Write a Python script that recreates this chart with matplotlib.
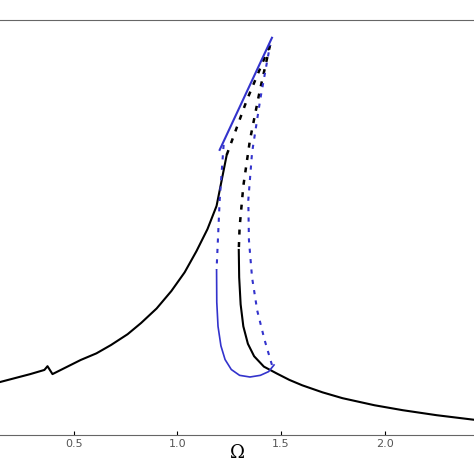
import matplotlib.pyplot as plt

# black branches
blk_left_x = [0.146, 0.291, 0.359, 0.374, 0.398, 0.534, 0.610, 0.680, 0.760, 0.825, 0.900, 0.971, 1.035, 1.092, 1.145, 1.189, 1.238]
blk_left_y = [0.128, 0.147, 0.157, 0.166, 0.147, 0.181, 0.197, 0.217, 0.243, 0.270, 0.305, 0.347, 0.392, 0.443, 0.496, 0.552, 0.675]
blk_right_x = [1.296, 1.298, 1.305, 1.318, 1.340, 1.370, 1.417, 1.481, 1.540, 1.602, 1.700, 1.796, 1.950, 2.087, 2.250, 2.447]
blk_right_y = [0.446, 0.380, 0.315, 0.262, 0.220, 0.190, 0.165, 0.148, 0.133, 0.120, 0.103, 0.089, 0.072, 0.060, 0.048, 0.036]
blk_dash1_x = [1.238, 1.335, 1.447]
blk_dash1_y = [0.675, 0.807, 0.940]
blk_dash2_x = [1.447, 1.398, 1.350, 1.318, 1.300, 1.296]
blk_dash2_y = [0.940, 0.831, 0.711, 0.600, 0.500, 0.446]

# blue branches
blu_up_x = [1.204, 1.456]
blu_up_y = [0.687, 0.957]
blu_dash1_x = [1.223, 1.204, 1.189]
blu_dash1_y = [0.699, 0.566, 0.398]
blu_low_x = [1.189, 1.190, 1.196, 1.210, 1.230, 1.260, 1.300, 1.350, 1.400, 1.440, 1.466]
blu_low_y = [0.398, 0.320, 0.262, 0.215, 0.182, 0.158, 0.144, 0.140, 0.144, 0.153, 0.169]
blu_dash2_x = [1.456, 1.420, 1.385, 1.360, 1.345, 1.342, 1.360, 1.400, 1.447]
blu_dash2_y = [0.169, 0.230, 0.300, 0.380, 0.470, 0.566, 0.680, 0.810, 0.940]

fig = plt.figure(figsize=(4.74, 4.74), dpi=100)
ax = fig.add_axes([0.0, 0.082, 1.0, 0.876])

ax.plot(blk_left_x, blk_left_y, color='black', lw=1.5)
ax.plot(blk_right_x, blk_right_y, color='black', lw=1.5)
ax.plot(blk_dash1_x, blk_dash1_y, color='black', lw=1.8, ls=(0, (2, 3)))
ax.plot(blk_dash2_x, blk_dash2_y, color='black', lw=1.8, ls=(0, (2, 3)))
ax.plot(blu_up_x, blu_up_y, color='#3333cc', lw=1.5)
ax.plot(blu_dash1_x, blu_dash1_y, color='#3333cc', lw=1.5, ls=(0, (2, 3)))
ax.plot(blu_low_x, blu_low_y, color='#3333cc', lw=1.2)
ax.plot(blu_dash2_x, blu_dash2_y, color='#3333cc', lw=1.5, ls=(0, (2, 3)))

ax.set_xlim(0.145, 2.43)
ax.set_ylim(0, 1)
ax.set_xticks([0.5, 1.0, 1.5, 2.0])
ax.set_xticklabels(['0.5', '1.0', '1.5', '2.0'], fontsize=8, color='#555555')
ax.set_yticks([])
ax.tick_params(axis='x', direction='in', length=3, pad=3)
for s in ['top', 'bottom']:
    ax.spines[s].set_color('#666666')
ax.spines['left'].set_visible(False)
ax.spines['right'].set_visible(False)
ax.set_xlabel('Ω', fontsize=13, labelpad=-4, family='DejaVu Serif')

fig.savefig('out.png', dpi=100)
